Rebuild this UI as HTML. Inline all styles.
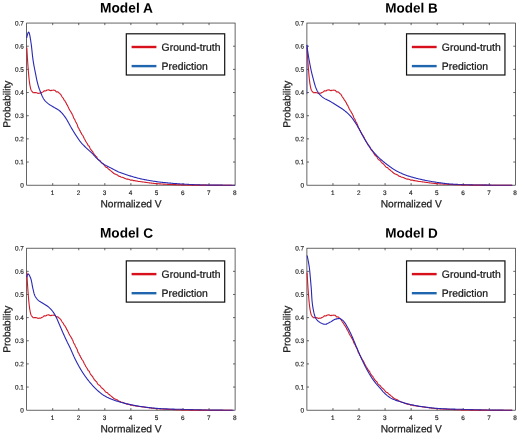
<!DOCTYPE html>
<html><head><meta charset="utf-8"><title>Models</title>
<style>html,body{margin:0;padding:0;background:#fff}svg{display:block;text-rendering:geometricPrecision}</style></head>
<body>
<svg width="520" height="435" viewBox="0 0 520 435" font-family="'Liberation Sans', sans-serif">
<rect width="520" height="435" fill="#fff"/>
<g><text x="100.00" y="12.60" transform="rotate(0.05 100.00 12.60)" font-size="13.75" font-weight="bold" fill="#000">Model A</text>
<rect x="26.65" y="23.05" width="208.45" height="162.14999999999998" fill="none" stroke="#262626" stroke-width="0.7"/>
<path d="M52.71 185.20v-2.1M52.71 23.05v2.1M78.76 185.20v-2.1M78.76 23.05v2.1M104.82 185.20v-2.1M104.82 23.05v2.1M130.88 185.20v-2.1M130.88 23.05v2.1M156.93 185.20v-2.1M156.93 23.05v2.1M182.99 185.20v-2.1M182.99 23.05v2.1M209.04 185.20v-2.1M209.04 23.05v2.1M26.65 162.04h2.1M235.10 162.04h-2.1M26.65 138.87h2.1M235.10 138.87h-2.1M26.65 115.71h2.1M235.10 115.71h-2.1M26.65 92.54h2.1M235.10 92.54h-2.1M26.65 69.38h2.1M235.10 69.38h-2.1M26.65 46.21h2.1M235.10 46.21h-2.1" stroke="#262626" stroke-width="0.7" fill="none"/>
<path d="M26.80 47.50 L26.84 48.23 L26.89 48.96 L26.93 49.68 L26.97 50.41 L27.02 51.14 L27.06 51.87 L27.10 52.59 L27.15 53.32 L27.19 54.05 L27.24 54.78 L27.28 55.51 L27.32 56.23 L27.37 56.96 L27.41 57.69 L27.46 58.42 L27.50 59.14 L27.55 59.87 L27.59 60.60 L27.64 61.33 L27.69 62.05 L27.74 62.78 L27.79 63.51 L27.84 64.24 L27.89 64.96 L27.95 65.69 L28.00 66.42 L28.06 67.14 L28.11 67.87 L28.17 68.60 L28.23 69.32 L28.29 70.05 L28.35 70.78 L28.41 71.50 L28.47 72.23 L28.53 72.96 L28.59 73.69 L28.65 74.41 L28.71 75.14 L28.78 75.87 L28.84 76.59 L28.91 77.32 L28.99 78.04 L29.06 78.77 L29.14 79.49 L29.23 80.21 L29.31 80.94 L29.40 81.66 L29.50 82.39 L29.59 83.11 L29.70 83.84 L29.81 84.57 L29.93 85.28 L30.06 86.00 L30.20 86.70 L30.35 87.39 L30.51 88.09 L30.70 88.86 L30.92 89.62 L31.18 90.30 L31.50 90.80 L31.95 91.25 L32.49 91.98 L33.06 92.62 L33.71 92.72 L34.43 92.61 L35.14 92.56 L35.87 92.66 L36.60 92.79 L37.33 93.04 L38.05 93.38 L38.77 93.21 L39.48 93.08 L40.20 93.31 L40.90 93.06 L41.60 92.47 L42.29 92.20 L42.97 91.98 L43.65 91.25 L44.33 90.71 L45.00 90.90 L45.68 90.98 L46.37 90.50 L47.07 90.05 L47.79 89.93 L48.52 89.89 L49.25 90.06 L49.99 90.51 L50.72 90.63 L51.45 90.38 L52.17 90.24 L52.88 90.20 L53.60 90.17 L54.31 90.21 L55.01 90.40 L55.68 91.11 L56.33 91.95 L56.96 92.05 L57.59 91.89 L58.20 92.05 L58.79 92.56 L59.36 93.33 L59.90 93.76 L60.40 94.02 L60.87 94.68 L61.32 95.48 L61.75 96.29 L62.17 97.04 L62.57 97.61 L62.96 97.88 L63.35 98.35 L63.73 99.27 L64.10 100.12 L64.48 100.47 L64.86 100.72 L65.23 101.47 L65.60 102.19 L65.97 102.64 L66.33 103.48 L66.68 104.46 L67.03 104.77 L67.38 105.20 L67.73 106.12 L68.07 106.80 L68.42 107.43 L68.76 108.25 L69.10 108.91 L69.43 109.56 L69.77 110.27 L70.10 110.69 L70.43 111.03 L70.75 111.61 L71.08 112.35 L71.40 113.01 L71.72 113.31 L72.03 113.84 L72.35 114.73 L72.67 115.18 L72.98 115.79 L73.30 116.85 L73.61 117.70 L73.93 118.39 L74.25 118.85 L74.57 119.19 L74.89 119.82 L75.22 120.70 L75.54 121.44 L75.86 122.05 L76.18 122.61 L76.51 123.20 L76.83 123.86 L77.15 124.45 L77.47 125.42 L77.80 126.59 L78.12 127.56 L78.45 127.99 L78.78 128.15 L79.11 129.04 L79.44 130.10 L79.77 130.49 L80.11 130.76 L80.45 131.71 L80.79 132.48 L81.13 132.67 L81.47 133.48 L81.81 134.32 L82.16 134.73 L82.51 135.25 L82.85 135.65 L83.20 136.13 L83.55 136.95 L83.91 137.82 L84.26 138.66 L84.62 139.29 L84.98 139.66 L85.34 140.40 L85.70 141.39 L86.07 141.80 L86.44 142.13 L86.81 142.89 L87.19 143.59 L87.56 144.28 L87.94 145.12 L88.33 145.83 L88.72 146.00 L89.11 145.99 L89.50 146.76 L89.89 147.88 L90.29 148.70 L90.69 149.44 L91.10 149.86 L91.51 150.31 L91.91 151.02 L92.33 151.18 L92.74 151.75 L93.15 152.76 L93.57 153.19 L93.99 153.98 L94.42 154.90 L94.85 155.06 L95.28 155.41 L95.72 156.14 L96.18 156.42 L96.63 156.80 L97.10 157.80 L97.58 158.73 L98.07 159.36 L98.56 159.80 L99.06 160.09 L99.57 160.39 L100.08 160.80 L100.60 161.53 L101.12 162.29 L101.64 162.78 L102.17 163.24 L102.69 163.56 L103.22 164.00 L103.75 164.64 L104.28 165.27 L104.81 165.89 L105.35 166.60 L105.89 167.19 L106.44 167.35 L106.99 167.45 L107.54 167.85 L108.10 168.59 L108.66 169.17 L109.23 169.43 L109.80 169.99 L110.37 170.62 L110.95 170.91 L111.53 171.35 L112.11 172.00 L112.70 172.45 L113.29 172.94 L113.88 173.56 L114.49 173.88 L115.09 173.93 L115.71 174.20 L116.33 174.68 L116.96 174.84 L117.59 175.10 L118.24 175.75 L118.90 176.20 L119.56 176.34 L120.23 176.58 L120.91 176.98 L121.59 177.18 L122.27 177.27 L122.96 177.46 L123.65 177.80 L124.34 178.13 L125.03 178.40 L125.72 178.67 L126.42 178.93 L127.12 179.12 L127.82 179.15 L128.53 179.23 L129.24 179.54 L129.96 179.87 L130.67 180.11 L131.38 180.11 L132.10 180.08 L132.81 180.36 L133.53 180.63 L134.24 180.66 L134.96 180.72 L135.68 180.86 L136.39 180.99 L137.11 181.14 L137.83 181.29 L138.56 181.44 L139.28 181.50 L140.00 181.56 L140.72 181.70 L141.44 181.81 L142.17 181.86 L142.89 181.93 L143.61 182.03 L144.33 182.16 L145.05 182.26 L145.78 182.35 L146.50 182.47 L147.22 182.57 L147.95 182.67 L148.67 182.76 L149.39 182.86 L150.12 182.95 L150.84 183.04 L151.56 183.13 L152.29 183.22 L153.01 183.30 L153.74 183.38 L154.46 183.45 L155.19 183.52 L155.91 183.59 L156.64 183.65 L157.37 183.70 L158.09 183.76 L158.82 183.81 L159.55 183.86 L160.27 183.91 L161.00 183.96 L161.73 184.00 L162.45 184.05 L163.18 184.09 L163.91 184.13 L164.64 184.18 L165.37 184.22 L166.09 184.26 L166.82 184.29 L167.55 184.33 L168.28 184.37 L169.01 184.40 L169.74 184.43 L170.47 184.47 L171.20 184.50 L171.92 184.53 L172.65 184.56 L173.38 184.59 L174.11 184.61 L174.84 184.64 L175.57 184.66 L176.30 184.69 L177.03 184.71 L177.75 184.73 L178.48 184.76 L179.21 184.78 L179.94 184.80 L180.67 184.82 L181.40 184.85 L182.13 184.87 L182.85 184.89 L183.58 184.91 L184.31 184.93 L185.04 184.95 L185.77 184.97 L186.50 184.99 L187.23 185.01 L187.96 185.03 L188.69 185.04 L189.41 185.06 L190.14 185.07 L190.87 185.09 L191.60 185.10 L192.33 185.11 L193.06 185.12 L193.79 185.13 L194.52 185.14 L195.25 185.14 L195.98 185.15 L196.70 185.15 L197.43 185.15 L198.16 185.15 L198.89 185.16 L199.62 185.16 L200.35 185.16 L201.08 185.16 L201.81 185.16 L202.54 185.17 L203.27 185.17 L203.99 185.17 L204.72 185.17 L205.45 185.17 L206.18 185.17 L206.91 185.18 L207.64 185.18 L208.37 185.18 L209.10 185.18 L209.83 185.18 L210.56 185.18 L211.28 185.18 L212.01 185.18 L212.74 185.19 L213.47 185.19 L214.20 185.19 L214.93 185.19 L215.66 185.19 L216.39 185.19 L217.12 185.19 L217.85 185.19 L218.58 185.19 L219.30 185.19 L220.03 185.19 L220.76 185.20 L221.49 185.20 L222.22 185.20 L222.95 185.20 L223.68 185.20 L224.41 185.20 L225.14 185.20 L225.87 185.20 L226.60 185.20 L227.33 185.20 L228.05 185.20 L228.78 185.20 L229.51 185.20 L230.24 185.20 L230.97 185.20 L231.70 185.20" fill="none" stroke="#cf1a28" stroke-width="1.1" stroke-linejoin="round"/>
<path d="M26.70 37.90 L26.96 36.66 L27.22 35.54 L27.47 34.56 L27.72 33.73 L27.96 33.06 L28.19 32.56 L28.41 32.23 L28.62 32.10 L28.82 32.19 L29.02 32.49 L29.22 32.98 L29.41 33.63 L29.60 34.40 L29.78 35.28 L29.96 36.21 L30.13 37.18 L30.29 38.15 L30.44 39.09 L30.58 39.96 L30.71 40.75 L30.83 41.49 L30.94 42.22 L31.05 42.97 L31.16 43.71 L31.25 44.45 L31.35 45.19 L31.44 45.94 L31.53 46.68 L31.61 47.43 L31.69 48.18 L31.77 48.92 L31.85 49.67 L31.93 50.42 L32.01 51.17 L32.09 51.91 L32.16 52.66 L32.24 53.41 L32.32 54.16 L32.40 54.91 L32.49 55.65 L32.58 56.40 L32.67 57.14 L32.76 57.89 L32.86 58.63 L32.96 59.38 L33.07 60.12 L33.18 60.86 L33.30 61.60 L33.41 62.34 L33.54 63.08 L33.66 63.82 L33.79 64.56 L33.92 65.30 L34.05 66.04 L34.19 66.78 L34.33 67.52 L34.47 68.25 L34.61 68.99 L34.75 69.73 L34.90 70.47 L35.04 71.20 L35.19 71.94 L35.33 72.67 L35.48 73.41 L35.63 74.15 L35.78 74.88 L35.92 75.62 L36.07 76.36 L36.22 77.09 L36.37 77.83 L36.52 78.57 L36.67 79.31 L36.83 80.04 L36.99 80.77 L37.16 81.51 L37.33 82.24 L37.51 82.97 L37.69 83.69 L37.88 84.42 L38.07 85.14 L38.27 85.86 L38.49 86.57 L38.72 87.29 L38.96 88.00 L39.21 88.71 L39.46 89.42 L39.73 90.12 L40.01 90.82 L40.29 91.52 L40.57 92.21 L40.86 92.90 L41.15 93.60 L41.44 94.30 L41.74 95.00 L42.04 95.70 L42.36 96.40 L42.69 97.08 L43.03 97.76 L43.38 98.41 L43.76 99.04 L44.16 99.65 L44.60 100.23 L45.08 100.79 L45.60 101.34 L46.14 101.87 L46.71 102.39 L47.29 102.88 L47.88 103.36 L48.46 103.83 L49.06 104.27 L49.67 104.69 L50.30 105.10 L50.94 105.50 L51.59 105.89 L52.24 106.27 L52.89 106.66 L53.53 107.05 L54.17 107.45 L54.83 107.83 L55.49 108.20 L56.16 108.56 L56.82 108.94 L57.48 109.31 L58.12 109.71 L58.73 110.12 L59.32 110.55 L59.88 111.02 L60.42 111.51 L60.96 112.03 L61.48 112.56 L61.99 113.12 L62.49 113.69 L62.98 114.28 L63.46 114.88 L63.93 115.48 L64.38 116.09 L64.83 116.70 L65.26 117.31 L65.69 117.91 L66.10 118.53 L66.49 119.17 L66.88 119.81 L67.25 120.45 L67.62 121.11 L67.98 121.77 L68.34 122.43 L68.70 123.10 L69.06 123.76 L69.41 124.43 L69.77 125.09 L70.14 125.75 L70.51 126.41 L70.89 127.05 L71.27 127.70 L71.66 128.34 L72.04 128.99 L72.42 129.63 L72.81 130.28 L73.20 130.92 L73.59 131.57 L73.98 132.21 L74.37 132.84 L74.77 133.48 L75.17 134.12 L75.58 134.75 L75.98 135.37 L76.40 136.00 L76.81 136.63 L77.23 137.25 L77.65 137.88 L78.07 138.50 L78.50 139.13 L78.93 139.74 L79.37 140.36 L79.81 140.96 L80.26 141.56 L80.72 142.15 L81.19 142.73 L81.67 143.30 L82.16 143.85 L82.67 144.40 L83.20 144.94 L83.73 145.47 L84.27 146.00 L84.81 146.52 L85.36 147.04 L85.91 147.55 L86.45 148.07 L86.99 148.59 L87.54 149.11 L88.09 149.62 L88.65 150.12 L89.20 150.62 L89.76 151.13 L90.32 151.63 L90.87 152.14 L91.42 152.65 L91.96 153.17 L92.49 153.70 L93.01 154.24 L93.53 154.79 L94.03 155.34 L94.53 155.90 L95.04 156.46 L95.54 157.02 L96.06 157.56 L96.59 158.09 L97.13 158.61 L97.67 159.13 L98.22 159.65 L98.77 160.16 L99.33 160.67 L99.90 161.18 L100.47 161.67 L101.04 162.16 L101.63 162.63 L102.22 163.09 L102.82 163.53 L103.43 163.95 L104.04 164.36 L104.68 164.75 L105.32 165.12 L105.97 165.49 L106.64 165.84 L107.30 166.19 L107.98 166.54 L108.65 166.87 L109.33 167.21 L110.01 167.55 L110.68 167.88 L111.35 168.22 L112.02 168.57 L112.68 168.92 L113.35 169.27 L114.02 169.62 L114.68 169.96 L115.35 170.31 L116.02 170.65 L116.70 170.98 L117.37 171.31 L118.05 171.63 L118.73 171.93 L119.42 172.23 L120.11 172.51 L120.81 172.78 L121.51 173.05 L122.21 173.31 L122.91 173.57 L123.62 173.82 L124.33 174.07 L125.04 174.31 L125.76 174.54 L126.47 174.78 L127.19 175.01 L127.91 175.23 L128.63 175.46 L129.34 175.68 L130.06 175.90 L130.78 176.11 L131.50 176.33 L132.22 176.54 L132.94 176.76 L133.66 176.97 L134.38 177.17 L135.10 177.38 L135.83 177.58 L136.55 177.78 L137.28 177.97 L138.01 178.16 L138.73 178.34 L139.46 178.52 L140.19 178.69 L140.92 178.86 L141.65 179.02 L142.39 179.18 L143.12 179.33 L143.86 179.48 L144.59 179.63 L145.33 179.77 L146.07 179.91 L146.81 180.04 L147.55 180.18 L148.29 180.31 L149.03 180.43 L149.77 180.56 L150.51 180.68 L151.25 180.81 L151.99 180.93 L152.73 181.05 L153.47 181.17 L154.21 181.29 L154.95 181.41 L155.69 181.53 L156.44 181.64 L157.18 181.74 L157.92 181.84 L158.67 181.94 L159.41 182.03 L160.16 182.12 L160.90 182.20 L161.65 182.28 L162.39 182.36 L163.14 182.44 L163.88 182.52 L164.63 182.59 L165.38 182.67 L166.12 182.74 L166.87 182.82 L167.62 182.89 L168.36 182.96 L169.11 183.03 L169.86 183.10 L170.61 183.17 L171.36 183.23 L172.10 183.30 L172.85 183.36 L173.60 183.43 L174.35 183.49 L175.10 183.55 L175.85 183.61 L176.60 183.66 L177.34 183.72 L178.09 183.77 L178.84 183.83 L179.59 183.88 L180.34 183.93 L181.09 183.98 L181.84 184.03 L182.59 184.07 L183.34 184.12 L184.09 184.16 L184.84 184.20 L185.59 184.24 L186.33 184.28 L187.08 184.32 L187.83 184.36 L188.58 184.39 L189.33 184.43 L190.08 184.47 L190.83 184.51 L191.58 184.54 L192.33 184.58 L193.08 184.61 L193.83 184.65 L194.58 184.68 L195.33 184.72 L196.08 184.75 L196.83 184.78 L197.58 184.81 L198.33 184.84 L199.08 184.87 L199.83 184.90 L200.58 184.93 L201.33 184.95 L202.08 184.97 L202.83 184.99 L203.58 185.01 L204.33 185.03 L205.08 185.05 L205.83 185.06 L206.58 185.08 L207.33 185.09 L208.08 185.09 L208.83 185.10 L209.58 185.11 L210.33 185.11 L211.08 185.12 L211.83 185.12 L212.58 185.13 L213.33 185.13 L214.09 185.13 L214.84 185.14 L215.59 185.14 L216.34 185.15 L217.09 185.15 L217.84 185.16 L218.59 185.16 L219.34 185.16 L220.09 185.17 L220.84 185.17 L221.59 185.17 L222.34 185.17 L223.09 185.18 L223.84 185.18 L224.59 185.18 L225.34 185.19 L226.09 185.19 L226.84 185.19 L227.59 185.19 L228.34 185.19 L229.09 185.19 L229.85 185.20 L230.60 185.20 L231.35 185.20 L232.10 185.20 L232.85 185.20 L233.60 185.20 L234.35 185.20 L235.10 185.20" fill="none" stroke="#2828b4" stroke-width="1.1" stroke-linejoin="round"/>
<path d="M176.70 184.90L198.70 185.20H235.10" stroke="#cf1a28" stroke-width="1.1" stroke-opacity="0.3" fill="none"/>
<text x="52.41" y="194.95" transform="rotate(0.05 52.41 194.95)" font-size="6.4" text-anchor="middle" fill="#222" stroke="#222" stroke-width="0.15">1</text>
<text x="78.46" y="194.95" transform="rotate(0.05 78.46 194.95)" font-size="6.4" text-anchor="middle" fill="#222" stroke="#222" stroke-width="0.15">2</text>
<text x="104.52" y="194.95" transform="rotate(0.05 104.52 194.95)" font-size="6.4" text-anchor="middle" fill="#222" stroke="#222" stroke-width="0.15">3</text>
<text x="130.57" y="194.95" transform="rotate(0.05 130.57 194.95)" font-size="6.4" text-anchor="middle" fill="#222" stroke="#222" stroke-width="0.15">4</text>
<text x="156.63" y="194.95" transform="rotate(0.05 156.63 194.95)" font-size="6.4" text-anchor="middle" fill="#222" stroke="#222" stroke-width="0.15">5</text>
<text x="182.69" y="194.95" transform="rotate(0.05 182.69 194.95)" font-size="6.4" text-anchor="middle" fill="#222" stroke="#222" stroke-width="0.15">6</text>
<text x="208.74" y="194.95" transform="rotate(0.05 208.74 194.95)" font-size="6.4" text-anchor="middle" fill="#222" stroke="#222" stroke-width="0.15">7</text>
<text x="234.80" y="194.95" transform="rotate(0.05 234.80 194.95)" font-size="6.4" text-anchor="middle" fill="#222" stroke="#222" stroke-width="0.15">8</text>
<text x="23.85" y="187.55" transform="rotate(0.05 23.85 187.55)" font-size="6.4" text-anchor="end" fill="#222" stroke="#222" stroke-width="0.15">0</text>
<text x="23.85" y="164.39" transform="rotate(0.05 23.85 164.39)" font-size="6.4" text-anchor="end" fill="#222" stroke="#222" stroke-width="0.15">0.1</text>
<text x="23.85" y="141.22" transform="rotate(0.05 23.85 141.22)" font-size="6.4" text-anchor="end" fill="#222" stroke="#222" stroke-width="0.15">0.2</text>
<text x="23.85" y="118.06" transform="rotate(0.05 23.85 118.06)" font-size="6.4" text-anchor="end" fill="#222" stroke="#222" stroke-width="0.15">0.3</text>
<text x="23.85" y="94.89" transform="rotate(0.05 23.85 94.89)" font-size="6.4" text-anchor="end" fill="#222" stroke="#222" stroke-width="0.15">0.4</text>
<text x="23.85" y="71.73" transform="rotate(0.05 23.85 71.73)" font-size="6.4" text-anchor="end" fill="#222" stroke="#222" stroke-width="0.15">0.5</text>
<text x="23.85" y="48.56" transform="rotate(0.05 23.85 48.56)" font-size="6.4" text-anchor="end" fill="#222" stroke="#222" stroke-width="0.15">0.6</text>
<text x="23.85" y="25.40" transform="rotate(0.05 23.85 25.40)" font-size="6.4" text-anchor="end" fill="#222" stroke="#222" stroke-width="0.15">0.7</text>
<text x="131.07" y="207.25" transform="rotate(0.05 131.07 207.25)" font-size="10.2" text-anchor="middle" fill="#222" stroke="#222" stroke-width="0.25">Normalized V</text>
<text transform="translate(10.35 104.17) rotate(-89.9)" font-size="10.1" text-anchor="middle" fill="#222" stroke="#222" stroke-width="0.25">Probability</text>
<rect x="126.30" y="33.80" width="98.4" height="41.2" fill="#fff" stroke="#111" stroke-width="1.2"/>
<path d="M131.60 47.00h24.8" stroke="#d8101c" stroke-width="2.4"/>
<path d="M131.60 66.10h24.8" stroke="#1f66ae" stroke-width="2.4"/>
<text x="161.60" y="50.70" transform="rotate(0.05 161.60 50.70)" font-size="10.4" fill="#111" stroke="#222" stroke-width="0.25">Ground-truth</text>
<text x="161.60" y="69.70" transform="rotate(0.05 161.60 69.70)" font-size="10.4" fill="#111" stroke="#222" stroke-width="0.25">Prediction</text></g>
<g><text x="385.30" y="12.60" transform="rotate(0.05 385.30 12.60)" font-size="13.5" font-weight="bold" fill="#000">Model B</text>
<rect x="306.9" y="23.05" width="208.45" height="162.14999999999998" fill="none" stroke="#262626" stroke-width="0.7"/>
<path d="M332.96 185.20v-2.1M332.96 23.05v2.1M359.01 185.20v-2.1M359.01 23.05v2.1M385.07 185.20v-2.1M385.07 23.05v2.1M411.12 185.20v-2.1M411.12 23.05v2.1M437.18 185.20v-2.1M437.18 23.05v2.1M463.24 185.20v-2.1M463.24 23.05v2.1M489.29 185.20v-2.1M489.29 23.05v2.1M306.90 162.04h2.1M515.35 162.04h-2.1M306.90 138.87h2.1M515.35 138.87h-2.1M306.90 115.71h2.1M515.35 115.71h-2.1M306.90 92.54h2.1M515.35 92.54h-2.1M306.90 69.38h2.1M515.35 69.38h-2.1M306.90 46.21h2.1M515.35 46.21h-2.1" stroke="#262626" stroke-width="0.7" fill="none"/>
<path d="M307.05 47.50 L307.09 48.23 L307.14 48.96 L307.18 49.68 L307.22 50.41 L307.27 51.14 L307.31 51.87 L307.35 52.59 L307.40 53.32 L307.44 54.05 L307.49 54.78 L307.53 55.51 L307.57 56.23 L307.62 56.96 L307.66 57.69 L307.71 58.42 L307.75 59.14 L307.80 59.87 L307.84 60.60 L307.89 61.33 L307.94 62.05 L307.99 62.78 L308.04 63.51 L308.09 64.24 L308.14 64.96 L308.20 65.69 L308.25 66.42 L308.31 67.14 L308.36 67.87 L308.42 68.60 L308.48 69.32 L308.54 70.05 L308.60 70.78 L308.66 71.50 L308.72 72.23 L308.78 72.96 L308.84 73.69 L308.90 74.41 L308.96 75.14 L309.03 75.87 L309.09 76.59 L309.16 77.32 L309.24 78.04 L309.31 78.77 L309.39 79.49 L309.48 80.21 L309.56 80.94 L309.65 81.66 L309.75 82.39 L309.84 83.11 L309.95 83.84 L310.06 84.57 L310.18 85.28 L310.31 86.00 L310.45 86.70 L310.60 87.39 L310.76 88.09 L310.95 88.86 L311.17 89.62 L311.43 90.30 L311.75 90.80 L312.20 91.25 L312.74 91.98 L313.31 92.62 L313.96 92.72 L314.68 92.61 L315.39 92.56 L316.12 92.66 L316.85 92.79 L317.58 93.04 L318.30 93.38 L319.02 93.21 L319.73 93.08 L320.45 93.31 L321.15 93.06 L321.85 92.47 L322.54 92.20 L323.22 91.98 L323.90 91.25 L324.58 90.71 L325.25 90.90 L325.93 90.98 L326.62 90.50 L327.32 90.05 L328.04 89.93 L328.77 89.89 L329.50 90.06 L330.24 90.51 L330.97 90.63 L331.70 90.38 L332.42 90.24 L333.13 90.20 L333.85 90.17 L334.56 90.21 L335.26 90.40 L335.93 91.11 L336.58 91.95 L337.21 92.05 L337.84 91.89 L338.45 92.05 L339.04 92.56 L339.61 93.33 L340.15 93.76 L340.65 94.02 L341.12 94.68 L341.57 95.48 L342.00 96.29 L342.42 97.04 L342.82 97.61 L343.21 97.88 L343.60 98.35 L343.98 99.27 L344.35 100.12 L344.73 100.47 L345.11 100.72 L345.48 101.47 L345.85 102.19 L346.22 102.64 L346.58 103.48 L346.93 104.46 L347.28 104.77 L347.63 105.20 L347.98 106.12 L348.32 106.80 L348.67 107.43 L349.01 108.25 L349.35 108.91 L349.68 109.56 L350.02 110.27 L350.35 110.69 L350.68 111.03 L351.00 111.61 L351.33 112.35 L351.65 113.01 L351.97 113.31 L352.28 113.84 L352.60 114.73 L352.92 115.18 L353.23 115.79 L353.55 116.85 L353.86 117.70 L354.18 118.39 L354.50 118.85 L354.82 119.19 L355.14 119.82 L355.47 120.70 L355.79 121.44 L356.11 122.05 L356.43 122.61 L356.76 123.20 L357.08 123.86 L357.40 124.45 L357.72 125.42 L358.05 126.59 L358.37 127.56 L358.70 127.99 L359.03 128.15 L359.36 129.04 L359.69 130.10 L360.02 130.49 L360.36 130.76 L360.70 131.71 L361.04 132.48 L361.38 132.67 L361.72 133.48 L362.06 134.32 L362.41 134.73 L362.76 135.25 L363.10 135.65 L363.45 136.13 L363.80 136.95 L364.16 137.82 L364.51 138.66 L364.87 139.29 L365.23 139.66 L365.59 140.40 L365.95 141.39 L366.32 141.80 L366.69 142.13 L367.06 142.89 L367.44 143.59 L367.81 144.28 L368.19 145.12 L368.58 145.83 L368.97 146.00 L369.36 145.99 L369.75 146.76 L370.14 147.88 L370.54 148.70 L370.94 149.44 L371.35 149.86 L371.76 150.31 L372.16 151.02 L372.58 151.18 L372.99 151.75 L373.40 152.76 L373.82 153.19 L374.24 153.98 L374.67 154.90 L375.10 155.06 L375.53 155.41 L375.97 156.14 L376.43 156.42 L376.88 156.80 L377.35 157.80 L377.83 158.73 L378.32 159.36 L378.81 159.80 L379.31 160.09 L379.82 160.39 L380.33 160.80 L380.85 161.53 L381.37 162.29 L381.89 162.78 L382.42 163.24 L382.94 163.56 L383.47 164.00 L384.00 164.64 L384.53 165.27 L385.06 165.89 L385.60 166.60 L386.14 167.19 L386.69 167.35 L387.24 167.45 L387.79 167.85 L388.35 168.59 L388.91 169.17 L389.48 169.43 L390.05 169.99 L390.62 170.62 L391.20 170.91 L391.78 171.35 L392.36 172.00 L392.95 172.45 L393.54 172.94 L394.13 173.56 L394.74 173.88 L395.34 173.93 L395.96 174.20 L396.58 174.68 L397.21 174.84 L397.84 175.10 L398.49 175.75 L399.15 176.20 L399.81 176.34 L400.48 176.58 L401.16 176.98 L401.84 177.18 L402.52 177.27 L403.21 177.46 L403.90 177.80 L404.59 178.13 L405.28 178.40 L405.97 178.67 L406.67 178.93 L407.37 179.12 L408.07 179.15 L408.78 179.23 L409.49 179.54 L410.21 179.87 L410.92 180.11 L411.63 180.11 L412.35 180.08 L413.06 180.36 L413.78 180.63 L414.49 180.66 L415.21 180.72 L415.93 180.86 L416.64 180.99 L417.36 181.14 L418.08 181.29 L418.81 181.44 L419.53 181.50 L420.25 181.56 L420.97 181.70 L421.69 181.81 L422.42 181.86 L423.14 181.93 L423.86 182.03 L424.58 182.16 L425.30 182.26 L426.03 182.35 L426.75 182.47 L427.47 182.57 L428.20 182.67 L428.92 182.76 L429.64 182.86 L430.37 182.95 L431.09 183.04 L431.81 183.13 L432.54 183.22 L433.26 183.30 L433.99 183.38 L434.71 183.45 L435.44 183.52 L436.16 183.59 L436.89 183.65 L437.62 183.70 L438.34 183.76 L439.07 183.81 L439.80 183.86 L440.52 183.91 L441.25 183.96 L441.98 184.00 L442.70 184.05 L443.43 184.09 L444.16 184.13 L444.89 184.18 L445.62 184.22 L446.34 184.26 L447.07 184.29 L447.80 184.33 L448.53 184.37 L449.26 184.40 L449.99 184.43 L450.72 184.47 L451.45 184.50 L452.17 184.53 L452.90 184.56 L453.63 184.59 L454.36 184.61 L455.09 184.64 L455.82 184.66 L456.55 184.69 L457.28 184.71 L458.00 184.73 L458.73 184.76 L459.46 184.78 L460.19 184.80 L460.92 184.82 L461.65 184.85 L462.38 184.87 L463.10 184.89 L463.83 184.91 L464.56 184.93 L465.29 184.95 L466.02 184.97 L466.75 184.99 L467.48 185.01 L468.21 185.03 L468.94 185.04 L469.66 185.06 L470.39 185.07 L471.12 185.09 L471.85 185.10 L472.58 185.11 L473.31 185.12 L474.04 185.13 L474.77 185.14 L475.50 185.14 L476.23 185.15 L476.95 185.15 L477.68 185.15 L478.41 185.15 L479.14 185.16 L479.87 185.16 L480.60 185.16 L481.33 185.16 L482.06 185.16 L482.79 185.17 L483.52 185.17 L484.24 185.17 L484.97 185.17 L485.70 185.17 L486.43 185.17 L487.16 185.18 L487.89 185.18 L488.62 185.18 L489.35 185.18 L490.08 185.18 L490.81 185.18 L491.53 185.18 L492.26 185.18 L492.99 185.19 L493.72 185.19 L494.45 185.19 L495.18 185.19 L495.91 185.19 L496.64 185.19 L497.37 185.19 L498.10 185.19 L498.83 185.19 L499.55 185.19 L500.28 185.19 L501.01 185.20 L501.74 185.20 L502.47 185.20 L503.20 185.20 L503.93 185.20 L504.66 185.20 L505.39 185.20 L506.12 185.20 L506.85 185.20 L507.58 185.20 L508.30 185.20 L509.03 185.20 L509.76 185.20 L510.49 185.20 L511.22 185.20 L511.95 185.20" fill="none" stroke="#cf1a28" stroke-width="1.1" stroke-linejoin="round"/>
<path d="M306.95 44.90 L307.02 45.60 L307.10 46.30 L307.18 47.00 L307.26 47.70 L307.35 48.40 L307.43 49.09 L307.52 49.79 L307.62 50.49 L307.71 51.18 L307.81 51.88 L307.91 52.57 L308.01 53.27 L308.12 53.96 L308.22 54.65 L308.33 55.35 L308.45 56.04 L308.56 56.73 L308.67 57.42 L308.79 58.11 L308.91 58.81 L309.03 59.50 L309.15 60.19 L309.28 60.88 L309.40 61.56 L309.53 62.25 L309.66 62.94 L309.79 63.63 L309.92 64.32 L310.05 65.01 L310.19 65.69 L310.32 66.38 L310.46 67.07 L310.60 67.75 L310.73 68.44 L310.87 69.13 L311.01 69.81 L311.15 70.50 L311.30 71.18 L311.46 71.86 L311.62 72.55 L311.78 73.23 L311.95 73.91 L312.13 74.59 L312.30 75.27 L312.48 75.95 L312.66 76.62 L312.84 77.30 L313.02 77.98 L313.20 78.66 L313.37 79.34 L313.55 80.02 L313.72 80.70 L313.90 81.39 L314.08 82.07 L314.26 82.75 L314.45 83.43 L314.64 84.10 L314.84 84.78 L315.04 85.44 L315.26 86.11 L315.48 86.77 L315.72 87.42 L315.97 88.07 L316.24 88.72 L316.52 89.37 L316.82 90.02 L317.13 90.66 L317.46 91.29 L317.81 91.90 L318.17 92.48 L318.55 93.05 L318.96 93.60 L319.40 94.14 L319.87 94.67 L320.36 95.19 L320.87 95.70 L321.40 96.18 L321.94 96.65 L322.48 97.09 L323.03 97.51 L323.59 97.90 L324.17 98.27 L324.77 98.62 L325.38 98.95 L326.01 99.27 L326.65 99.58 L327.29 99.89 L327.93 100.20 L328.56 100.51 L329.19 100.84 L329.81 101.18 L330.42 101.53 L331.02 101.88 L331.62 102.24 L332.22 102.60 L332.82 102.97 L333.42 103.34 L334.01 103.71 L334.61 104.08 L335.20 104.45 L335.80 104.83 L336.39 105.20 L336.98 105.57 L337.58 105.94 L338.18 106.31 L338.78 106.68 L339.38 107.05 L339.97 107.42 L340.57 107.79 L341.16 108.18 L341.74 108.56 L342.32 108.96 L342.89 109.36 L343.45 109.77 L344.00 110.20 L344.56 110.63 L345.11 111.06 L345.66 111.51 L346.21 111.96 L346.74 112.42 L347.28 112.88 L347.80 113.36 L348.31 113.84 L348.81 114.32 L349.30 114.82 L349.78 115.32 L350.24 115.83 L350.70 116.35 L351.15 116.89 L351.59 117.43 L352.02 117.98 L352.45 118.54 L352.87 119.10 L353.29 119.67 L353.69 120.25 L354.10 120.83 L354.50 121.41 L354.89 122.00 L355.28 122.59 L355.66 123.18 L356.05 123.77 L356.42 124.36 L356.79 124.95 L357.16 125.54 L357.51 126.14 L357.86 126.75 L358.21 127.36 L358.55 127.97 L358.88 128.59 L359.21 129.21 L359.54 129.83 L359.87 130.45 L360.20 131.07 L360.52 131.69 L360.85 132.31 L361.18 132.94 L361.51 133.56 L361.84 134.18 L362.18 134.79 L362.52 135.40 L362.87 136.01 L363.22 136.62 L363.57 137.22 L363.93 137.83 L364.28 138.44 L364.64 139.04 L364.99 139.65 L365.35 140.26 L365.71 140.86 L366.07 141.47 L366.43 142.07 L366.80 142.67 L367.17 143.26 L367.54 143.86 L367.92 144.45 L368.30 145.04 L368.69 145.62 L369.08 146.20 L369.48 146.77 L369.88 147.34 L370.29 147.90 L370.70 148.47 L371.13 149.03 L371.55 149.58 L371.99 150.14 L372.42 150.69 L372.87 151.23 L373.32 151.78 L373.77 152.32 L374.23 152.85 L374.69 153.38 L375.16 153.90 L375.63 154.42 L376.11 154.93 L376.59 155.44 L377.07 155.94 L377.57 156.43 L378.07 156.92 L378.57 157.41 L379.09 157.88 L379.61 158.36 L380.13 158.83 L380.66 159.30 L381.19 159.76 L381.72 160.22 L382.25 160.67 L382.79 161.13 L383.32 161.58 L383.86 162.03 L384.40 162.47 L384.95 162.91 L385.50 163.35 L386.05 163.78 L386.61 164.21 L387.17 164.63 L387.73 165.05 L388.30 165.46 L388.86 165.87 L389.43 166.29 L390.00 166.70 L390.57 167.11 L391.15 167.52 L391.72 167.93 L392.30 168.33 L392.88 168.72 L393.47 169.11 L394.06 169.49 L394.65 169.86 L395.25 170.22 L395.85 170.57 L396.46 170.91 L397.08 171.23 L397.69 171.55 L398.32 171.87 L398.95 172.18 L399.58 172.49 L400.21 172.79 L400.86 173.08 L401.50 173.37 L402.14 173.65 L402.79 173.93 L403.45 174.20 L404.10 174.46 L404.75 174.72 L405.41 174.97 L406.07 175.21 L406.72 175.45 L407.38 175.68 L408.04 175.90 L408.70 176.12 L409.37 176.34 L410.04 176.55 L410.71 176.75 L411.38 176.95 L412.06 177.15 L412.73 177.34 L413.41 177.53 L414.09 177.71 L414.77 177.89 L415.45 178.07 L416.13 178.25 L416.81 178.42 L417.49 178.59 L418.17 178.75 L418.85 178.92 L419.53 179.08 L420.22 179.24 L420.90 179.40 L421.58 179.55 L422.27 179.70 L422.95 179.85 L423.64 180.00 L424.33 180.14 L425.01 180.28 L425.70 180.42 L426.39 180.55 L427.08 180.69 L427.77 180.82 L428.46 180.95 L429.15 181.07 L429.84 181.19 L430.53 181.32 L431.22 181.44 L431.91 181.55 L432.60 181.67 L433.29 181.78 L433.98 181.89 L434.68 182.00 L435.37 182.11 L436.06 182.21 L436.76 182.32 L437.45 182.42 L438.15 182.52 L438.84 182.62 L439.53 182.71 L440.23 182.81 L440.92 182.91 L441.62 183.00 L442.31 183.10 L443.01 183.20 L443.70 183.30 L444.40 183.39 L445.10 183.48 L445.79 183.57 L446.49 183.66 L447.18 183.73 L447.88 183.81 L448.58 183.87 L449.28 183.93 L449.97 183.98 L450.67 184.03 L451.37 184.07 L452.07 184.11 L452.77 184.15 L453.47 184.19 L454.17 184.23 L454.87 184.26 L455.56 184.30 L456.26 184.34 L456.96 184.37 L457.66 184.40 L458.37 184.44 L459.07 184.47 L459.77 184.50 L460.47 184.53 L461.17 184.56 L461.87 184.59 L462.57 184.62 L463.27 184.64 L463.97 184.67 L464.67 184.69 L465.37 184.72 L466.08 184.74 L466.78 184.76 L467.48 184.78 L468.18 184.81 L468.88 184.83 L469.58 184.85 L470.28 184.86 L470.99 184.88 L471.69 184.90 L472.39 184.91 L473.09 184.93 L473.79 184.94 L474.49 184.96 L475.19 184.97 L475.89 184.98 L476.60 184.99 L477.30 185.01 L478.00 185.02 L478.70 185.03 L479.40 185.04 L480.10 185.05 L480.80 185.06 L481.50 185.07 L482.20 185.08 L482.90 185.09 L483.61 185.10 L484.31 185.11 L485.01 185.12 L485.71 185.12 L486.41 185.13 L487.11 185.14 L487.81 185.15 L488.51 185.15 L489.21 185.16 L489.91 185.17 L490.62 185.17 L491.32 185.18 L492.02 185.18 L492.72 185.19 L493.42 185.19 L494.12 185.19 L494.82 185.20 L495.52 185.20 L496.22 185.20 L496.93 185.20 L497.63 185.20 L498.33 185.20 L499.03 185.20 L499.73 185.20 L500.43 185.20 L501.13 185.20 L501.83 185.20 L502.53 185.20 L503.24 185.20 L503.94 185.20 L504.64 185.20 L505.34 185.20 L506.04 185.20 L506.74 185.20 L507.44 185.20 L508.14 185.20 L508.84 185.20 L509.55 185.20 L510.25 185.20 L510.95 185.20 L511.65 185.20 L512.35 185.20" fill="none" stroke="#2828b4" stroke-width="1.1" stroke-linejoin="round"/>
<path d="M456.95 184.90L478.95 185.20H512.35" stroke="#cf1a28" stroke-width="1.1" stroke-opacity="0.3" fill="none"/>
<path d="M307.00 94.20V44.90" stroke="#3030b8" stroke-width="0.9" stroke-opacity="0.55" fill="none"/>
<text x="332.66" y="194.95" transform="rotate(0.05 332.66 194.95)" font-size="6.4" text-anchor="middle" fill="#222" stroke="#222" stroke-width="0.15">1</text>
<text x="358.71" y="194.95" transform="rotate(0.05 358.71 194.95)" font-size="6.4" text-anchor="middle" fill="#222" stroke="#222" stroke-width="0.15">2</text>
<text x="384.77" y="194.95" transform="rotate(0.05 384.77 194.95)" font-size="6.4" text-anchor="middle" fill="#222" stroke="#222" stroke-width="0.15">3</text>
<text x="410.82" y="194.95" transform="rotate(0.05 410.82 194.95)" font-size="6.4" text-anchor="middle" fill="#222" stroke="#222" stroke-width="0.15">4</text>
<text x="436.88" y="194.95" transform="rotate(0.05 436.88 194.95)" font-size="6.4" text-anchor="middle" fill="#222" stroke="#222" stroke-width="0.15">5</text>
<text x="462.94" y="194.95" transform="rotate(0.05 462.94 194.95)" font-size="6.4" text-anchor="middle" fill="#222" stroke="#222" stroke-width="0.15">6</text>
<text x="488.99" y="194.95" transform="rotate(0.05 488.99 194.95)" font-size="6.4" text-anchor="middle" fill="#222" stroke="#222" stroke-width="0.15">7</text>
<text x="515.05" y="194.95" transform="rotate(0.05 515.05 194.95)" font-size="6.4" text-anchor="middle" fill="#222" stroke="#222" stroke-width="0.15">8</text>
<text x="304.10" y="187.55" transform="rotate(0.05 304.10 187.55)" font-size="6.4" text-anchor="end" fill="#222" stroke="#222" stroke-width="0.15">0</text>
<text x="304.10" y="164.39" transform="rotate(0.05 304.10 164.39)" font-size="6.4" text-anchor="end" fill="#222" stroke="#222" stroke-width="0.15">0.1</text>
<text x="304.10" y="141.22" transform="rotate(0.05 304.10 141.22)" font-size="6.4" text-anchor="end" fill="#222" stroke="#222" stroke-width="0.15">0.2</text>
<text x="304.10" y="118.06" transform="rotate(0.05 304.10 118.06)" font-size="6.4" text-anchor="end" fill="#222" stroke="#222" stroke-width="0.15">0.3</text>
<text x="304.10" y="94.89" transform="rotate(0.05 304.10 94.89)" font-size="6.4" text-anchor="end" fill="#222" stroke="#222" stroke-width="0.15">0.4</text>
<text x="304.10" y="71.73" transform="rotate(0.05 304.10 71.73)" font-size="6.4" text-anchor="end" fill="#222" stroke="#222" stroke-width="0.15">0.5</text>
<text x="304.10" y="48.56" transform="rotate(0.05 304.10 48.56)" font-size="6.4" text-anchor="end" fill="#222" stroke="#222" stroke-width="0.15">0.6</text>
<text x="304.10" y="25.40" transform="rotate(0.05 304.10 25.40)" font-size="6.4" text-anchor="end" fill="#222" stroke="#222" stroke-width="0.15">0.7</text>
<text x="411.32" y="207.25" transform="rotate(0.05 411.32 207.25)" font-size="10.2" text-anchor="middle" fill="#222" stroke="#222" stroke-width="0.25">Normalized V</text>
<text transform="translate(290.30 104.17) rotate(-89.9)" font-size="10.1" text-anchor="middle" fill="#222" stroke="#222" stroke-width="0.25">Probability</text>
<rect x="406.55" y="33.80" width="98.4" height="41.2" fill="#fff" stroke="#111" stroke-width="1.2"/>
<path d="M411.85 47.00h24.8" stroke="#d8101c" stroke-width="2.4"/>
<path d="M411.85 66.10h24.8" stroke="#1f66ae" stroke-width="2.4"/>
<text x="441.85" y="50.70" transform="rotate(0.05 441.85 50.70)" font-size="10.4" fill="#111" stroke="#222" stroke-width="0.25">Ground-truth</text>
<text x="441.85" y="69.70" transform="rotate(0.05 441.85 69.70)" font-size="10.4" fill="#111" stroke="#222" stroke-width="0.25">Prediction</text></g>
<g><text x="100.00" y="237.60" transform="rotate(0.05 100.00 237.60)" font-size="13.65" font-weight="bold" fill="#000">Model C</text>
<rect x="26.65" y="248.2" width="208.45" height="162.0" fill="none" stroke="#262626" stroke-width="0.7"/>
<path d="M52.71 410.20v-2.1M52.71 248.20v2.1M78.76 410.20v-2.1M78.76 248.20v2.1M104.82 410.20v-2.1M104.82 248.20v2.1M130.88 410.20v-2.1M130.88 248.20v2.1M156.93 410.20v-2.1M156.93 248.20v2.1M182.99 410.20v-2.1M182.99 248.20v2.1M209.04 410.20v-2.1M209.04 248.20v2.1M26.65 387.06h2.1M235.10 387.06h-2.1M26.65 363.91h2.1M235.10 363.91h-2.1M26.65 340.77h2.1M235.10 340.77h-2.1M26.65 317.63h2.1M235.10 317.63h-2.1M26.65 294.49h2.1M235.10 294.49h-2.1M26.65 271.34h2.1M235.10 271.34h-2.1" stroke="#262626" stroke-width="0.7" fill="none"/>
<path d="M26.80 272.50 L26.84 273.23 L26.89 273.96 L26.93 274.68 L26.97 275.41 L27.02 276.14 L27.06 276.87 L27.10 277.59 L27.15 278.32 L27.19 279.05 L27.24 279.78 L27.28 280.51 L27.32 281.23 L27.37 281.96 L27.41 282.69 L27.46 283.42 L27.50 284.14 L27.55 284.87 L27.59 285.60 L27.64 286.33 L27.69 287.05 L27.74 287.78 L27.79 288.51 L27.84 289.24 L27.89 289.96 L27.95 290.69 L28.00 291.42 L28.06 292.14 L28.11 292.87 L28.17 293.60 L28.23 294.32 L28.29 295.05 L28.35 295.78 L28.41 296.50 L28.47 297.23 L28.53 297.96 L28.59 298.69 L28.65 299.41 L28.71 300.14 L28.78 300.87 L28.84 301.59 L28.91 302.32 L28.99 303.04 L29.06 303.77 L29.14 304.49 L29.23 305.21 L29.31 305.94 L29.40 306.66 L29.50 307.39 L29.59 308.11 L29.70 308.84 L29.81 309.57 L29.93 310.28 L30.06 311.00 L30.20 311.70 L30.35 312.39 L30.51 313.09 L30.70 313.86 L30.92 314.62 L31.18 315.30 L31.50 315.80 L31.95 316.25 L32.49 316.98 L33.06 317.62 L33.71 317.72 L34.43 317.61 L35.14 317.56 L35.87 317.66 L36.60 317.79 L37.33 318.04 L38.05 318.38 L38.77 318.21 L39.48 318.08 L40.20 318.31 L40.90 318.06 L41.60 317.47 L42.29 317.20 L42.97 316.98 L43.65 316.25 L44.33 315.71 L45.00 315.90 L45.68 315.98 L46.37 315.50 L47.07 315.05 L47.79 314.93 L48.52 314.89 L49.25 315.06 L49.99 315.51 L50.72 315.63 L51.45 315.38 L52.17 315.24 L52.88 315.20 L53.60 315.17 L54.31 315.21 L55.01 315.40 L55.68 316.11 L56.33 316.95 L56.96 317.05 L57.59 316.89 L58.20 317.05 L58.79 317.56 L59.36 318.33 L59.90 318.76 L60.40 319.02 L60.87 319.68 L61.32 320.48 L61.75 321.29 L62.17 322.04 L62.57 322.61 L62.96 322.88 L63.35 323.35 L63.73 324.27 L64.10 325.12 L64.48 325.47 L64.86 325.72 L65.23 326.47 L65.60 327.19 L65.97 327.64 L66.33 328.48 L66.68 329.46 L67.03 329.77 L67.38 330.20 L67.73 331.12 L68.07 331.80 L68.42 332.43 L68.76 333.25 L69.10 333.91 L69.43 334.56 L69.77 335.27 L70.10 335.69 L70.43 336.03 L70.75 336.61 L71.08 337.35 L71.40 338.01 L71.72 338.31 L72.03 338.84 L72.35 339.73 L72.67 340.18 L72.98 340.79 L73.30 341.85 L73.61 342.70 L73.93 343.39 L74.25 343.85 L74.57 344.19 L74.89 344.82 L75.22 345.70 L75.54 346.44 L75.86 347.05 L76.18 347.61 L76.51 348.20 L76.83 348.86 L77.15 349.45 L77.47 350.42 L77.80 351.59 L78.12 352.56 L78.45 352.99 L78.78 353.15 L79.11 354.04 L79.44 355.10 L79.77 355.49 L80.11 355.76 L80.45 356.71 L80.79 357.48 L81.13 357.67 L81.47 358.48 L81.81 359.32 L82.16 359.73 L82.51 360.25 L82.85 360.65 L83.20 361.13 L83.55 361.95 L83.91 362.82 L84.26 363.66 L84.62 364.29 L84.98 364.66 L85.34 365.40 L85.70 366.39 L86.07 366.80 L86.44 367.13 L86.81 367.89 L87.19 368.59 L87.56 369.28 L87.94 370.12 L88.33 370.83 L88.72 371.00 L89.11 370.99 L89.50 371.76 L89.89 372.88 L90.29 373.70 L90.69 374.44 L91.10 374.86 L91.51 375.31 L91.91 376.02 L92.33 376.18 L92.74 376.75 L93.15 377.76 L93.57 378.19 L93.99 378.98 L94.42 379.90 L94.85 380.06 L95.28 380.41 L95.72 381.14 L96.18 381.42 L96.63 381.80 L97.10 382.80 L97.58 383.73 L98.07 384.36 L98.56 384.80 L99.06 385.09 L99.57 385.39 L100.08 385.80 L100.60 386.53 L101.12 387.29 L101.64 387.78 L102.17 388.24 L102.69 388.56 L103.22 389.00 L103.75 389.64 L104.28 390.27 L104.81 390.89 L105.35 391.60 L105.89 392.19 L106.44 392.35 L106.99 392.45 L107.54 392.85 L108.10 393.59 L108.66 394.17 L109.23 394.43 L109.80 394.99 L110.37 395.62 L110.95 395.91 L111.53 396.35 L112.11 397.00 L112.70 397.45 L113.29 397.94 L113.88 398.56 L114.49 398.88 L115.09 398.93 L115.71 399.20 L116.33 399.68 L116.96 399.84 L117.59 400.10 L118.24 400.75 L118.90 401.20 L119.56 401.34 L120.23 401.58 L120.91 401.98 L121.59 402.18 L122.27 402.27 L122.96 402.46 L123.65 402.80 L124.34 403.13 L125.03 403.40 L125.72 403.67 L126.42 403.93 L127.12 404.12 L127.82 404.15 L128.53 404.23 L129.24 404.54 L129.96 404.87 L130.67 405.11 L131.38 405.11 L132.10 405.08 L132.81 405.36 L133.53 405.63 L134.24 405.66 L134.96 405.72 L135.68 405.86 L136.39 405.99 L137.11 406.14 L137.83 406.29 L138.56 406.44 L139.28 406.50 L140.00 406.56 L140.72 406.70 L141.44 406.81 L142.17 406.86 L142.89 406.93 L143.61 407.03 L144.33 407.16 L145.05 407.26 L145.78 407.35 L146.50 407.47 L147.22 407.57 L147.95 407.67 L148.67 407.76 L149.39 407.86 L150.12 407.95 L150.84 408.04 L151.56 408.13 L152.29 408.22 L153.01 408.30 L153.74 408.38 L154.46 408.45 L155.19 408.52 L155.91 408.59 L156.64 408.65 L157.37 408.70 L158.09 408.76 L158.82 408.81 L159.55 408.86 L160.27 408.91 L161.00 408.96 L161.73 409.00 L162.45 409.05 L163.18 409.09 L163.91 409.13 L164.64 409.18 L165.37 409.22 L166.09 409.26 L166.82 409.29 L167.55 409.33 L168.28 409.37 L169.01 409.40 L169.74 409.43 L170.47 409.47 L171.20 409.50 L171.92 409.53 L172.65 409.56 L173.38 409.59 L174.11 409.61 L174.84 409.64 L175.57 409.66 L176.30 409.69 L177.03 409.71 L177.75 409.73 L178.48 409.76 L179.21 409.78 L179.94 409.80 L180.67 409.82 L181.40 409.85 L182.13 409.87 L182.85 409.89 L183.58 409.91 L184.31 409.93 L185.04 409.95 L185.77 409.97 L186.50 409.99 L187.23 410.01 L187.96 410.03 L188.69 410.04 L189.41 410.06 L190.14 410.07 L190.87 410.09 L191.60 410.10 L192.33 410.11 L193.06 410.12 L193.79 410.13 L194.52 410.14 L195.25 410.14 L195.98 410.15 L196.70 410.15 L197.43 410.15 L198.16 410.15 L198.89 410.16 L199.62 410.16 L200.35 410.16 L201.08 410.16 L201.81 410.16 L202.54 410.17 L203.27 410.17 L203.99 410.17 L204.72 410.17 L205.45 410.17 L206.18 410.17 L206.91 410.18 L207.64 410.18 L208.37 410.18 L209.10 410.18 L209.83 410.18 L210.56 410.18 L211.28 410.18 L212.01 410.18 L212.74 410.19 L213.47 410.19 L214.20 410.19 L214.93 410.19 L215.66 410.19 L216.39 410.19 L217.12 410.19 L217.85 410.19 L218.58 410.19 L219.30 410.19 L220.03 410.19 L220.76 410.20 L221.49 410.20 L222.22 410.20 L222.95 410.20 L223.68 410.20 L224.41 410.20 L225.14 410.20 L225.87 410.20 L226.60 410.20 L227.33 410.20 L228.05 410.20 L228.78 410.20 L229.51 410.20 L230.24 410.20 L230.97 410.20 L231.70 410.20" fill="none" stroke="#cf1a28" stroke-width="1.1" stroke-linejoin="round"/>
<path d="M26.70 277.30 L26.94 276.21 L27.20 275.30 L27.46 274.59 L27.74 274.11 L28.04 273.91 L28.36 273.99 L28.72 274.34 L29.12 274.90 L29.52 275.60 L29.91 276.39 L30.27 277.20 L30.58 277.98 L30.83 278.68 L31.03 279.33 L31.21 280.00 L31.37 280.68 L31.52 281.36 L31.66 282.05 L31.79 282.75 L31.92 283.46 L32.04 284.16 L32.16 284.87 L32.29 285.57 L32.42 286.28 L32.55 286.98 L32.70 287.67 L32.86 288.36 L33.02 289.05 L33.18 289.75 L33.33 290.45 L33.49 291.16 L33.66 291.86 L33.84 292.55 L34.02 293.23 L34.22 293.91 L34.44 294.56 L34.68 295.20 L34.94 295.83 L35.26 296.45 L35.62 297.06 L36.02 297.67 L36.45 298.26 L36.91 298.82 L37.38 299.36 L37.86 299.87 L38.35 300.34 L38.88 300.78 L39.44 301.19 L40.04 301.57 L40.65 301.95 L41.27 302.31 L41.89 302.68 L42.51 303.05 L43.10 303.43 L43.70 303.81 L44.31 304.18 L44.92 304.55 L45.53 304.91 L46.14 305.28 L46.73 305.67 L47.31 306.06 L47.88 306.47 L48.42 306.90 L48.96 307.36 L49.48 307.83 L49.99 308.32 L50.50 308.83 L50.98 309.35 L51.46 309.88 L51.91 310.42 L52.35 310.97 L52.78 311.52 L53.19 312.09 L53.59 312.68 L53.98 313.27 L54.36 313.87 L54.73 314.48 L55.09 315.09 L55.43 315.71 L55.77 316.33 L56.09 316.95 L56.40 317.58 L56.70 318.22 L56.99 318.87 L57.27 319.51 L57.55 320.17 L57.82 320.82 L58.10 321.47 L58.37 322.13 L58.65 322.78 L58.93 323.43 L59.21 324.08 L59.49 324.72 L59.77 325.37 L60.05 326.02 L60.33 326.67 L60.60 327.32 L60.88 327.97 L61.16 328.62 L61.44 329.27 L61.71 329.92 L61.99 330.57 L62.27 331.22 L62.55 331.86 L62.84 332.51 L63.13 333.16 L63.41 333.80 L63.70 334.45 L63.99 335.09 L64.28 335.73 L64.57 336.38 L64.87 337.02 L65.16 337.66 L65.46 338.31 L65.75 338.95 L66.05 339.59 L66.35 340.23 L66.65 340.86 L66.96 341.50 L67.26 342.14 L67.58 342.77 L67.89 343.40 L68.21 344.03 L68.54 344.66 L68.86 345.29 L69.17 345.92 L69.49 346.55 L69.80 347.19 L70.10 347.83 L70.39 348.47 L70.69 349.11 L70.97 349.76 L71.26 350.40 L71.54 351.05 L71.82 351.70 L72.10 352.35 L72.38 353.00 L72.67 353.65 L72.95 354.30 L73.23 354.95 L73.52 355.59 L73.80 356.24 L74.10 356.88 L74.39 357.52 L74.69 358.16 L75.00 358.79 L75.31 359.42 L75.63 360.05 L75.95 360.68 L76.27 361.31 L76.59 361.94 L76.92 362.57 L77.25 363.19 L77.58 363.82 L77.92 364.44 L78.26 365.06 L78.60 365.68 L78.94 366.30 L79.29 366.92 L79.64 367.53 L80.00 368.14 L80.35 368.75 L80.71 369.36 L81.08 369.97 L81.45 370.57 L81.82 371.17 L82.19 371.76 L82.57 372.36 L82.95 372.95 L83.34 373.54 L83.73 374.13 L84.13 374.72 L84.53 375.30 L84.93 375.88 L85.34 376.46 L85.75 377.04 L86.17 377.61 L86.59 378.18 L87.01 378.75 L87.44 379.31 L87.87 379.87 L88.30 380.42 L88.74 380.97 L89.18 381.52 L89.63 382.07 L90.08 382.62 L90.53 383.16 L90.99 383.70 L91.46 384.23 L91.93 384.76 L92.40 385.29 L92.88 385.81 L93.36 386.33 L93.85 386.84 L94.34 387.35 L94.84 387.85 L95.34 388.34 L95.84 388.83 L96.35 389.32 L96.87 389.81 L97.39 390.30 L97.91 390.78 L98.44 391.26 L98.97 391.73 L99.51 392.20 L100.06 392.66 L100.61 393.11 L101.16 393.55 L101.72 393.97 L102.29 394.39 L102.87 394.78 L103.45 395.17 L104.03 395.53 L104.63 395.89 L105.24 396.24 L105.86 396.58 L106.49 396.91 L107.12 397.24 L107.76 397.55 L108.41 397.86 L109.05 398.16 L109.70 398.45 L110.36 398.73 L111.01 399.00 L111.66 399.26 L112.31 399.52 L112.97 399.77 L113.64 400.01 L114.30 400.24 L114.97 400.47 L115.64 400.69 L116.32 400.91 L117.00 401.12 L117.67 401.33 L118.35 401.53 L119.03 401.73 L119.71 401.93 L120.38 402.12 L121.06 402.32 L121.74 402.50 L122.43 402.69 L123.11 402.87 L123.79 403.05 L124.48 403.23 L125.16 403.40 L125.85 403.57 L126.54 403.74 L127.23 403.90 L127.91 404.06 L128.60 404.22 L129.29 404.37 L129.98 404.51 L130.67 404.66 L131.36 404.80 L132.06 404.93 L132.75 405.07 L133.44 405.20 L134.14 405.34 L134.83 405.47 L135.53 405.59 L136.22 405.72 L136.92 405.84 L137.62 405.96 L138.31 406.08 L139.01 406.19 L139.71 406.31 L140.41 406.42 L141.11 406.52 L141.81 406.62 L142.51 406.72 L143.20 406.82 L143.90 406.91 L144.60 407.01 L145.30 407.10 L146.00 407.19 L146.70 407.28 L147.40 407.37 L148.11 407.46 L148.81 407.54 L149.51 407.63 L150.21 407.71 L150.91 407.80 L151.62 407.88 L152.32 407.95 L153.02 408.03 L153.73 408.10 L154.43 408.17 L155.13 408.24 L155.84 408.30 L156.54 408.36 L157.25 408.42 L157.95 408.47 L158.65 408.52 L159.36 408.56 L160.06 408.60 L160.77 408.64 L161.47 408.68 L162.17 408.71 L162.88 408.74 L163.58 408.78 L164.29 408.81 L164.99 408.84 L165.70 408.87 L166.41 408.89 L167.11 408.92 L167.82 408.95 L168.52 408.98 L169.23 409.00 L169.93 409.02 L170.64 409.05 L171.35 409.07 L172.05 409.09 L172.76 409.12 L173.47 409.14 L174.17 409.16 L174.88 409.18 L175.58 409.20 L176.29 409.22 L177.00 409.24 L177.70 409.26 L178.41 409.28 L179.12 409.30 L179.82 409.32 L180.53 409.33 L181.24 409.35 L181.94 409.37 L182.65 409.39 L183.36 409.41 L184.06 409.43 L184.77 409.45 L185.48 409.47 L186.18 409.49 L186.89 409.51 L187.59 409.53 L188.30 409.55 L189.01 409.57 L189.71 409.59 L190.42 409.61 L191.12 409.63 L191.83 409.65 L192.54 409.67 L193.24 409.69 L193.95 409.71 L194.65 409.73 L195.36 409.75 L196.07 409.78 L196.77 409.80 L197.48 409.82 L198.19 409.84 L198.89 409.86 L199.60 409.87 L200.30 409.89 L201.01 409.91 L201.72 409.93 L202.42 409.95 L203.13 409.96 L203.83 409.98 L204.54 409.99 L205.25 410.01 L205.95 410.02 L206.66 410.04 L207.37 410.05 L208.07 410.06 L208.78 410.07 L209.48 410.08 L210.19 410.09 L210.90 410.09 L211.60 410.10 L212.31 410.10 L213.02 410.11 L213.72 410.12 L214.43 410.12 L215.13 410.13 L215.84 410.13 L216.55 410.13 L217.25 410.14 L217.96 410.14 L218.67 410.15 L219.37 410.15 L220.08 410.16 L220.79 410.16 L221.49 410.16 L222.20 410.17 L222.90 410.17 L223.61 410.18 L224.32 410.18 L225.02 410.18 L225.73 410.18 L226.44 410.19 L227.14 410.19 L227.85 410.19 L228.56 410.19 L229.26 410.20 L229.97 410.20 L230.67 410.20 L231.38 410.20 L232.09 410.20 L232.79 410.20 L233.50 410.20" fill="none" stroke="#2828b4" stroke-width="1.1" stroke-linejoin="round"/>
<path d="M176.70 409.90L198.70 410.20H233.50" stroke="#cf1a28" stroke-width="1.1" stroke-opacity="0.3" fill="none"/>
<text x="52.41" y="419.95" transform="rotate(0.05 52.41 419.95)" font-size="6.4" text-anchor="middle" fill="#222" stroke="#222" stroke-width="0.15">1</text>
<text x="78.46" y="419.95" transform="rotate(0.05 78.46 419.95)" font-size="6.4" text-anchor="middle" fill="#222" stroke="#222" stroke-width="0.15">2</text>
<text x="104.52" y="419.95" transform="rotate(0.05 104.52 419.95)" font-size="6.4" text-anchor="middle" fill="#222" stroke="#222" stroke-width="0.15">3</text>
<text x="130.57" y="419.95" transform="rotate(0.05 130.57 419.95)" font-size="6.4" text-anchor="middle" fill="#222" stroke="#222" stroke-width="0.15">4</text>
<text x="156.63" y="419.95" transform="rotate(0.05 156.63 419.95)" font-size="6.4" text-anchor="middle" fill="#222" stroke="#222" stroke-width="0.15">5</text>
<text x="182.69" y="419.95" transform="rotate(0.05 182.69 419.95)" font-size="6.4" text-anchor="middle" fill="#222" stroke="#222" stroke-width="0.15">6</text>
<text x="208.74" y="419.95" transform="rotate(0.05 208.74 419.95)" font-size="6.4" text-anchor="middle" fill="#222" stroke="#222" stroke-width="0.15">7</text>
<text x="234.80" y="419.95" transform="rotate(0.05 234.80 419.95)" font-size="6.4" text-anchor="middle" fill="#222" stroke="#222" stroke-width="0.15">8</text>
<text x="23.85" y="412.55" transform="rotate(0.05 23.85 412.55)" font-size="6.4" text-anchor="end" fill="#222" stroke="#222" stroke-width="0.15">0</text>
<text x="23.85" y="389.41" transform="rotate(0.05 23.85 389.41)" font-size="6.4" text-anchor="end" fill="#222" stroke="#222" stroke-width="0.15">0.1</text>
<text x="23.85" y="366.26" transform="rotate(0.05 23.85 366.26)" font-size="6.4" text-anchor="end" fill="#222" stroke="#222" stroke-width="0.15">0.2</text>
<text x="23.85" y="343.12" transform="rotate(0.05 23.85 343.12)" font-size="6.4" text-anchor="end" fill="#222" stroke="#222" stroke-width="0.15">0.3</text>
<text x="23.85" y="319.98" transform="rotate(0.05 23.85 319.98)" font-size="6.4" text-anchor="end" fill="#222" stroke="#222" stroke-width="0.15">0.4</text>
<text x="23.85" y="296.84" transform="rotate(0.05 23.85 296.84)" font-size="6.4" text-anchor="end" fill="#222" stroke="#222" stroke-width="0.15">0.5</text>
<text x="23.85" y="273.69" transform="rotate(0.05 23.85 273.69)" font-size="6.4" text-anchor="end" fill="#222" stroke="#222" stroke-width="0.15">0.6</text>
<text x="23.85" y="250.55" transform="rotate(0.05 23.85 250.55)" font-size="6.4" text-anchor="end" fill="#222" stroke="#222" stroke-width="0.15">0.7</text>
<text x="131.07" y="432.25" transform="rotate(0.05 131.07 432.25)" font-size="10.2" text-anchor="middle" fill="#222" stroke="#222" stroke-width="0.25">Normalized V</text>
<text transform="translate(10.35 329.25) rotate(-89.9)" font-size="10.1" text-anchor="middle" fill="#222" stroke="#222" stroke-width="0.25">Probability</text>
<rect x="126.30" y="260.90" width="98.4" height="41.2" fill="#fff" stroke="#111" stroke-width="1.2"/>
<path d="M131.60 274.10h24.8" stroke="#d8101c" stroke-width="2.4"/>
<path d="M131.60 293.20h24.8" stroke="#1f66ae" stroke-width="2.4"/>
<text x="161.60" y="277.80" transform="rotate(0.05 161.60 277.80)" font-size="10.4" fill="#111" stroke="#222" stroke-width="0.25">Ground-truth</text>
<text x="161.60" y="296.80" transform="rotate(0.05 161.60 296.80)" font-size="10.4" fill="#111" stroke="#222" stroke-width="0.25">Prediction</text></g>
<g><text x="385.30" y="237.60" transform="rotate(0.05 385.30 237.60)" font-size="13.5" font-weight="bold" fill="#000">Model D</text>
<rect x="306.9" y="248.2" width="208.45" height="162.0" fill="none" stroke="#262626" stroke-width="0.7"/>
<path d="M332.96 410.20v-2.1M332.96 248.20v2.1M359.01 410.20v-2.1M359.01 248.20v2.1M385.07 410.20v-2.1M385.07 248.20v2.1M411.12 410.20v-2.1M411.12 248.20v2.1M437.18 410.20v-2.1M437.18 248.20v2.1M463.24 410.20v-2.1M463.24 248.20v2.1M489.29 410.20v-2.1M489.29 248.20v2.1M306.90 387.06h2.1M515.35 387.06h-2.1M306.90 363.91h2.1M515.35 363.91h-2.1M306.90 340.77h2.1M515.35 340.77h-2.1M306.90 317.63h2.1M515.35 317.63h-2.1M306.90 294.49h2.1M515.35 294.49h-2.1M306.90 271.34h2.1M515.35 271.34h-2.1" stroke="#262626" stroke-width="0.7" fill="none"/>
<path d="M307.05 272.50 L307.09 273.23 L307.14 273.96 L307.18 274.68 L307.22 275.41 L307.27 276.14 L307.31 276.87 L307.35 277.59 L307.40 278.32 L307.44 279.05 L307.49 279.78 L307.53 280.51 L307.57 281.23 L307.62 281.96 L307.66 282.69 L307.71 283.42 L307.75 284.14 L307.80 284.87 L307.84 285.60 L307.89 286.33 L307.94 287.05 L307.99 287.78 L308.04 288.51 L308.09 289.24 L308.14 289.96 L308.20 290.69 L308.25 291.42 L308.31 292.14 L308.36 292.87 L308.42 293.60 L308.48 294.32 L308.54 295.05 L308.60 295.78 L308.66 296.50 L308.72 297.23 L308.78 297.96 L308.84 298.69 L308.90 299.41 L308.96 300.14 L309.03 300.87 L309.09 301.59 L309.16 302.32 L309.24 303.04 L309.31 303.77 L309.39 304.49 L309.48 305.21 L309.56 305.94 L309.65 306.66 L309.75 307.39 L309.84 308.11 L309.95 308.84 L310.06 309.57 L310.18 310.28 L310.31 311.00 L310.45 311.70 L310.60 312.39 L310.76 313.09 L310.95 313.86 L311.17 314.62 L311.43 315.30 L311.75 315.80 L312.20 316.25 L312.74 316.98 L313.31 317.62 L313.96 317.72 L314.68 317.61 L315.39 317.56 L316.12 317.66 L316.85 317.79 L317.58 318.04 L318.30 318.38 L319.02 318.21 L319.73 318.08 L320.45 318.31 L321.15 318.06 L321.85 317.47 L322.54 317.20 L323.22 316.98 L323.90 316.25 L324.58 315.71 L325.25 315.90 L325.93 315.98 L326.62 315.50 L327.32 315.05 L328.04 314.93 L328.77 314.89 L329.50 315.06 L330.24 315.51 L330.97 315.63 L331.70 315.38 L332.42 315.24 L333.13 315.20 L333.85 315.17 L334.56 315.21 L335.26 315.40 L335.93 316.11 L336.58 316.95 L337.21 317.05 L337.84 316.89 L338.45 317.05 L339.04 317.56 L339.61 318.33 L340.15 318.76 L340.65 319.02 L341.12 319.68 L341.57 320.48 L342.00 321.29 L342.42 322.04 L342.82 322.61 L343.21 322.88 L343.60 323.35 L343.98 324.27 L344.35 325.12 L344.73 325.47 L345.11 325.72 L345.48 326.47 L345.85 327.19 L346.22 327.64 L346.58 328.48 L346.93 329.46 L347.28 329.77 L347.63 330.20 L347.98 331.12 L348.32 331.80 L348.67 332.43 L349.01 333.25 L349.35 333.91 L349.68 334.56 L350.02 335.27 L350.35 335.69 L350.68 336.03 L351.00 336.61 L351.33 337.35 L351.65 338.01 L351.97 338.31 L352.28 338.84 L352.60 339.73 L352.92 340.18 L353.23 340.79 L353.55 341.85 L353.86 342.70 L354.18 343.39 L354.50 343.85 L354.82 344.19 L355.14 344.82 L355.47 345.70 L355.79 346.44 L356.11 347.05 L356.43 347.61 L356.76 348.20 L357.08 348.86 L357.40 349.45 L357.72 350.42 L358.05 351.59 L358.37 352.56 L358.70 352.99 L359.03 353.15 L359.36 354.04 L359.69 355.10 L360.02 355.49 L360.36 355.76 L360.70 356.71 L361.04 357.48 L361.38 357.67 L361.72 358.48 L362.06 359.32 L362.41 359.73 L362.76 360.25 L363.10 360.65 L363.45 361.13 L363.80 361.95 L364.16 362.82 L364.51 363.66 L364.87 364.29 L365.23 364.66 L365.59 365.40 L365.95 366.39 L366.32 366.80 L366.69 367.13 L367.06 367.89 L367.44 368.59 L367.81 369.28 L368.19 370.12 L368.58 370.83 L368.97 371.00 L369.36 370.99 L369.75 371.76 L370.14 372.88 L370.54 373.70 L370.94 374.44 L371.35 374.86 L371.76 375.31 L372.16 376.02 L372.58 376.18 L372.99 376.75 L373.40 377.76 L373.82 378.19 L374.24 378.98 L374.67 379.90 L375.10 380.06 L375.53 380.41 L375.97 381.14 L376.43 381.42 L376.88 381.80 L377.35 382.80 L377.83 383.73 L378.32 384.36 L378.81 384.80 L379.31 385.09 L379.82 385.39 L380.33 385.80 L380.85 386.53 L381.37 387.29 L381.89 387.78 L382.42 388.24 L382.94 388.56 L383.47 389.00 L384.00 389.64 L384.53 390.27 L385.06 390.89 L385.60 391.60 L386.14 392.19 L386.69 392.35 L387.24 392.45 L387.79 392.85 L388.35 393.59 L388.91 394.17 L389.48 394.43 L390.05 394.99 L390.62 395.62 L391.20 395.91 L391.78 396.35 L392.36 397.00 L392.95 397.45 L393.54 397.94 L394.13 398.56 L394.74 398.88 L395.34 398.93 L395.96 399.20 L396.58 399.68 L397.21 399.84 L397.84 400.10 L398.49 400.75 L399.15 401.20 L399.81 401.34 L400.48 401.58 L401.16 401.98 L401.84 402.18 L402.52 402.27 L403.21 402.46 L403.90 402.80 L404.59 403.13 L405.28 403.40 L405.97 403.67 L406.67 403.93 L407.37 404.12 L408.07 404.15 L408.78 404.23 L409.49 404.54 L410.21 404.87 L410.92 405.11 L411.63 405.11 L412.35 405.08 L413.06 405.36 L413.78 405.63 L414.49 405.66 L415.21 405.72 L415.93 405.86 L416.64 405.99 L417.36 406.14 L418.08 406.29 L418.81 406.44 L419.53 406.50 L420.25 406.56 L420.97 406.70 L421.69 406.81 L422.42 406.86 L423.14 406.93 L423.86 407.03 L424.58 407.16 L425.30 407.26 L426.03 407.35 L426.75 407.47 L427.47 407.57 L428.20 407.67 L428.92 407.76 L429.64 407.86 L430.37 407.95 L431.09 408.04 L431.81 408.13 L432.54 408.22 L433.26 408.30 L433.99 408.38 L434.71 408.45 L435.44 408.52 L436.16 408.59 L436.89 408.65 L437.62 408.70 L438.34 408.76 L439.07 408.81 L439.80 408.86 L440.52 408.91 L441.25 408.96 L441.98 409.00 L442.70 409.05 L443.43 409.09 L444.16 409.13 L444.89 409.18 L445.62 409.22 L446.34 409.26 L447.07 409.29 L447.80 409.33 L448.53 409.37 L449.26 409.40 L449.99 409.43 L450.72 409.47 L451.45 409.50 L452.17 409.53 L452.90 409.56 L453.63 409.59 L454.36 409.61 L455.09 409.64 L455.82 409.66 L456.55 409.69 L457.28 409.71 L458.00 409.73 L458.73 409.76 L459.46 409.78 L460.19 409.80 L460.92 409.82 L461.65 409.85 L462.38 409.87 L463.10 409.89 L463.83 409.91 L464.56 409.93 L465.29 409.95 L466.02 409.97 L466.75 409.99 L467.48 410.01 L468.21 410.03 L468.94 410.04 L469.66 410.06 L470.39 410.07 L471.12 410.09 L471.85 410.10 L472.58 410.11 L473.31 410.12 L474.04 410.13 L474.77 410.14 L475.50 410.14 L476.23 410.15 L476.95 410.15 L477.68 410.15 L478.41 410.15 L479.14 410.16 L479.87 410.16 L480.60 410.16 L481.33 410.16 L482.06 410.16 L482.79 410.17 L483.52 410.17 L484.24 410.17 L484.97 410.17 L485.70 410.17 L486.43 410.17 L487.16 410.18 L487.89 410.18 L488.62 410.18 L489.35 410.18 L490.08 410.18 L490.81 410.18 L491.53 410.18 L492.26 410.18 L492.99 410.19 L493.72 410.19 L494.45 410.19 L495.18 410.19 L495.91 410.19 L496.64 410.19 L497.37 410.19 L498.10 410.19 L498.83 410.19 L499.55 410.19 L500.28 410.19 L501.01 410.20 L501.74 410.20 L502.47 410.20 L503.20 410.20 L503.93 410.20 L504.66 410.20 L505.39 410.20 L506.12 410.20 L506.85 410.20 L507.58 410.20 L508.30 410.20 L509.03 410.20 L509.76 410.20 L510.49 410.20 L511.22 410.20 L511.95 410.20" fill="none" stroke="#cf1a28" stroke-width="1.1" stroke-linejoin="round"/>
<path d="M307.15 255.50 L307.31 256.26 L307.47 257.02 L307.63 257.78 L307.78 258.54 L307.93 259.30 L308.07 260.06 L308.21 260.83 L308.35 261.59 L308.49 262.36 L308.62 263.12 L308.75 263.89 L308.88 264.65 L309.01 265.42 L309.13 266.18 L309.24 266.95 L309.35 267.72 L309.45 268.49 L309.54 269.26 L309.63 270.03 L309.71 270.80 L309.79 271.57 L309.86 272.34 L309.93 273.12 L310.00 273.89 L310.07 274.66 L310.14 275.44 L310.21 276.21 L310.27 276.98 L310.34 277.76 L310.41 278.53 L310.48 279.30 L310.55 280.08 L310.62 280.85 L310.68 281.62 L310.75 282.40 L310.82 283.17 L310.89 283.94 L310.95 284.72 L311.02 285.49 L311.08 286.26 L311.15 287.04 L311.21 287.81 L311.27 288.58 L311.32 289.36 L311.38 290.13 L311.43 290.90 L311.48 291.68 L311.52 292.46 L311.57 293.23 L311.61 294.01 L311.65 294.78 L311.69 295.56 L311.74 296.33 L311.78 297.11 L311.83 297.88 L311.88 298.66 L311.94 299.43 L312.00 300.20 L312.07 300.97 L312.14 301.74 L312.22 302.52 L312.31 303.29 L312.40 304.06 L312.50 304.84 L312.60 305.61 L312.72 306.38 L312.84 307.16 L312.96 307.93 L313.09 308.69 L313.23 309.46 L313.38 310.22 L313.53 310.98 L313.69 311.73 L313.85 312.48 L314.03 313.23 L314.22 313.99 L314.44 314.76 L314.67 315.53 L314.94 316.29 L315.22 317.03 L315.53 317.74 L315.87 318.40 L316.23 319.02 L316.66 319.62 L317.17 320.21 L317.74 320.78 L318.36 321.31 L319.00 321.81 L319.67 322.25 L320.33 322.64 L320.99 322.98 L321.71 323.32 L322.45 323.65 L323.21 323.93 L323.97 324.15 L324.72 324.28 L325.45 324.29 L326.17 324.14 L326.89 323.88 L327.61 323.53 L328.32 323.14 L329.03 322.73 L329.73 322.36 L330.42 322.00 L331.10 321.60 L331.76 321.17 L332.43 320.74 L333.09 320.32 L333.76 319.93 L334.45 319.59 L335.16 319.33 L335.89 319.11 L336.66 318.90 L337.45 318.72 L338.22 318.58 L338.97 318.51 L339.69 318.54 L340.40 318.77 L341.11 319.15 L341.79 319.63 L342.44 320.17 L343.03 320.71 L343.57 321.21 L344.07 321.76 L344.55 322.35 L344.99 322.98 L345.42 323.64 L345.84 324.33 L346.24 325.02 L346.63 325.72 L347.01 326.41 L347.40 327.09 L347.78 327.76 L348.16 328.44 L348.52 329.12 L348.89 329.81 L349.24 330.50 L349.59 331.19 L349.93 331.89 L350.27 332.59 L350.61 333.29 L350.94 333.99 L351.27 334.70 L351.59 335.41 L351.92 336.11 L352.24 336.82 L352.55 337.52 L352.86 338.23 L353.17 338.95 L353.47 339.66 L353.76 340.38 L354.06 341.10 L354.35 341.82 L354.64 342.54 L354.93 343.26 L355.22 343.98 L355.51 344.70 L355.81 345.42 L356.10 346.14 L356.40 346.85 L356.71 347.57 L357.01 348.28 L357.31 349.00 L357.61 349.71 L357.91 350.43 L358.22 351.14 L358.52 351.86 L358.82 352.57 L359.13 353.28 L359.43 354.00 L359.74 354.71 L360.05 355.42 L360.36 356.13 L360.68 356.84 L360.99 357.55 L361.31 358.26 L361.64 358.96 L361.97 359.66 L362.29 360.37 L362.63 361.07 L362.96 361.77 L363.29 362.47 L363.63 363.17 L363.97 363.87 L364.31 364.57 L364.66 365.26 L365.01 365.96 L365.36 366.65 L365.72 367.34 L366.08 368.02 L366.44 368.71 L366.81 369.39 L367.19 370.07 L367.56 370.74 L367.94 371.42 L368.33 372.10 L368.72 372.77 L369.11 373.44 L369.50 374.12 L369.90 374.78 L370.31 375.45 L370.71 376.11 L371.13 376.77 L371.55 377.43 L371.97 378.08 L372.40 378.72 L372.84 379.36 L373.28 380.00 L373.72 380.63 L374.18 381.25 L374.65 381.86 L375.13 382.46 L375.62 383.06 L376.12 383.66 L376.63 384.24 L377.14 384.83 L377.66 385.41 L378.17 385.99 L378.69 386.58 L379.21 387.16 L379.73 387.74 L380.24 388.32 L380.75 388.91 L381.24 389.51 L381.74 390.12 L382.23 390.72 L382.73 391.32 L383.25 391.89 L383.79 392.44 L384.34 392.97 L384.91 393.50 L385.49 394.04 L386.07 394.56 L386.67 395.08 L387.28 395.59 L387.90 396.08 L388.52 396.56 L389.15 397.02 L389.80 397.45 L390.45 397.87 L391.10 398.25 L391.77 398.61 L392.44 398.94 L393.14 399.25 L393.85 399.55 L394.57 399.83 L395.30 400.11 L396.04 400.37 L396.79 400.62 L397.54 400.86 L398.29 401.10 L399.03 401.34 L399.77 401.58 L400.51 401.81 L401.25 402.04 L401.99 402.27 L402.73 402.50 L403.48 402.73 L404.22 402.95 L404.97 403.16 L405.72 403.37 L406.47 403.58 L407.22 403.78 L407.97 403.97 L408.73 404.16 L409.48 404.34 L410.24 404.51 L410.99 404.67 L411.75 404.83 L412.51 404.99 L413.27 405.14 L414.03 405.29 L414.79 405.43 L415.56 405.57 L416.32 405.71 L417.09 405.84 L417.85 405.97 L418.62 406.10 L419.39 406.22 L420.15 406.34 L420.92 406.46 L421.69 406.57 L422.46 406.68 L423.23 406.79 L424.00 406.89 L424.77 406.99 L425.53 407.09 L426.30 407.19 L427.07 407.29 L427.84 407.39 L428.61 407.49 L429.39 407.58 L430.16 407.68 L430.93 407.77 L431.70 407.86 L432.47 407.94 L433.24 408.03 L434.02 408.11 L434.79 408.18 L435.56 408.26 L436.34 408.32 L437.11 408.39 L437.88 408.45 L438.66 408.50 L439.43 408.55 L440.20 408.60 L440.98 408.64 L441.75 408.68 L442.53 408.71 L443.30 408.75 L444.07 408.79 L444.85 408.82 L445.62 408.85 L446.40 408.88 L447.17 408.92 L447.95 408.94 L448.72 408.97 L449.50 409.00 L450.28 409.03 L451.05 409.05 L451.83 409.08 L452.60 409.10 L453.38 409.13 L454.15 409.15 L454.93 409.17 L455.71 409.20 L456.48 409.22 L457.26 409.24 L458.04 409.26 L458.81 409.28 L459.59 409.30 L460.36 409.32 L461.14 409.34 L461.92 409.36 L462.69 409.38 L463.47 409.41 L464.25 409.43 L465.02 409.45 L465.80 409.47 L466.57 409.49 L467.35 409.51 L468.12 409.53 L468.90 409.56 L469.68 409.58 L470.45 409.60 L471.23 409.62 L472.00 409.65 L472.78 409.67 L473.55 409.69 L474.33 409.72 L475.11 409.74 L475.88 409.76 L476.66 409.78 L477.43 409.81 L478.21 409.83 L478.98 409.85 L479.76 409.87 L480.54 409.89 L481.31 409.91 L482.09 409.93 L482.86 409.95 L483.64 409.97 L484.42 409.98 L485.19 410.00 L485.97 410.02 L486.74 410.03 L487.52 410.04 L488.29 410.06 L489.07 410.07 L489.85 410.08 L490.62 410.09 L491.40 410.10 L492.17 410.10 L492.95 410.11 L493.73 410.11 L494.50 410.12 L495.28 410.13 L496.05 410.13 L496.83 410.14 L497.61 410.14 L498.38 410.15 L499.16 410.15 L499.93 410.16 L500.71 410.16 L501.49 410.17 L502.26 410.17 L503.04 410.17 L503.81 410.18 L504.59 410.18 L505.37 410.19 L506.14 410.19 L506.92 410.19 L507.69 410.19 L508.47 410.20 L509.25 410.20 L510.02 410.20 L510.80 410.20 L511.57 410.20 L512.35 410.20" fill="none" stroke="#2828b4" stroke-width="1.1" stroke-linejoin="round"/>
<path d="M456.95 409.90L478.95 410.20H512.35" stroke="#cf1a28" stroke-width="1.1" stroke-opacity="0.3" fill="none"/>
<text x="332.66" y="419.95" transform="rotate(0.05 332.66 419.95)" font-size="6.4" text-anchor="middle" fill="#222" stroke="#222" stroke-width="0.15">1</text>
<text x="358.71" y="419.95" transform="rotate(0.05 358.71 419.95)" font-size="6.4" text-anchor="middle" fill="#222" stroke="#222" stroke-width="0.15">2</text>
<text x="384.77" y="419.95" transform="rotate(0.05 384.77 419.95)" font-size="6.4" text-anchor="middle" fill="#222" stroke="#222" stroke-width="0.15">3</text>
<text x="410.82" y="419.95" transform="rotate(0.05 410.82 419.95)" font-size="6.4" text-anchor="middle" fill="#222" stroke="#222" stroke-width="0.15">4</text>
<text x="436.88" y="419.95" transform="rotate(0.05 436.88 419.95)" font-size="6.4" text-anchor="middle" fill="#222" stroke="#222" stroke-width="0.15">5</text>
<text x="462.94" y="419.95" transform="rotate(0.05 462.94 419.95)" font-size="6.4" text-anchor="middle" fill="#222" stroke="#222" stroke-width="0.15">6</text>
<text x="488.99" y="419.95" transform="rotate(0.05 488.99 419.95)" font-size="6.4" text-anchor="middle" fill="#222" stroke="#222" stroke-width="0.15">7</text>
<text x="515.05" y="419.95" transform="rotate(0.05 515.05 419.95)" font-size="6.4" text-anchor="middle" fill="#222" stroke="#222" stroke-width="0.15">8</text>
<text x="304.10" y="412.55" transform="rotate(0.05 304.10 412.55)" font-size="6.4" text-anchor="end" fill="#222" stroke="#222" stroke-width="0.15">0</text>
<text x="304.10" y="389.41" transform="rotate(0.05 304.10 389.41)" font-size="6.4" text-anchor="end" fill="#222" stroke="#222" stroke-width="0.15">0.1</text>
<text x="304.10" y="366.26" transform="rotate(0.05 304.10 366.26)" font-size="6.4" text-anchor="end" fill="#222" stroke="#222" stroke-width="0.15">0.2</text>
<text x="304.10" y="343.12" transform="rotate(0.05 304.10 343.12)" font-size="6.4" text-anchor="end" fill="#222" stroke="#222" stroke-width="0.15">0.3</text>
<text x="304.10" y="319.98" transform="rotate(0.05 304.10 319.98)" font-size="6.4" text-anchor="end" fill="#222" stroke="#222" stroke-width="0.15">0.4</text>
<text x="304.10" y="296.84" transform="rotate(0.05 304.10 296.84)" font-size="6.4" text-anchor="end" fill="#222" stroke="#222" stroke-width="0.15">0.5</text>
<text x="304.10" y="273.69" transform="rotate(0.05 304.10 273.69)" font-size="6.4" text-anchor="end" fill="#222" stroke="#222" stroke-width="0.15">0.6</text>
<text x="304.10" y="250.55" transform="rotate(0.05 304.10 250.55)" font-size="6.4" text-anchor="end" fill="#222" stroke="#222" stroke-width="0.15">0.7</text>
<text x="411.32" y="432.25" transform="rotate(0.05 411.32 432.25)" font-size="10.2" text-anchor="middle" fill="#222" stroke="#222" stroke-width="0.25">Normalized V</text>
<text transform="translate(290.30 329.25) rotate(-89.9)" font-size="10.1" text-anchor="middle" fill="#222" stroke="#222" stroke-width="0.25">Probability</text>
<rect x="406.55" y="260.90" width="98.4" height="41.2" fill="#fff" stroke="#111" stroke-width="1.2"/>
<path d="M411.85 274.10h24.8" stroke="#d8101c" stroke-width="2.4"/>
<path d="M411.85 293.20h24.8" stroke="#1f66ae" stroke-width="2.4"/>
<text x="441.85" y="277.80" transform="rotate(0.05 441.85 277.80)" font-size="10.4" fill="#111" stroke="#222" stroke-width="0.25">Ground-truth</text>
<text x="441.85" y="296.80" transform="rotate(0.05 441.85 296.80)" font-size="10.4" fill="#111" stroke="#222" stroke-width="0.25">Prediction</text></g>
</svg>
</body></html>
